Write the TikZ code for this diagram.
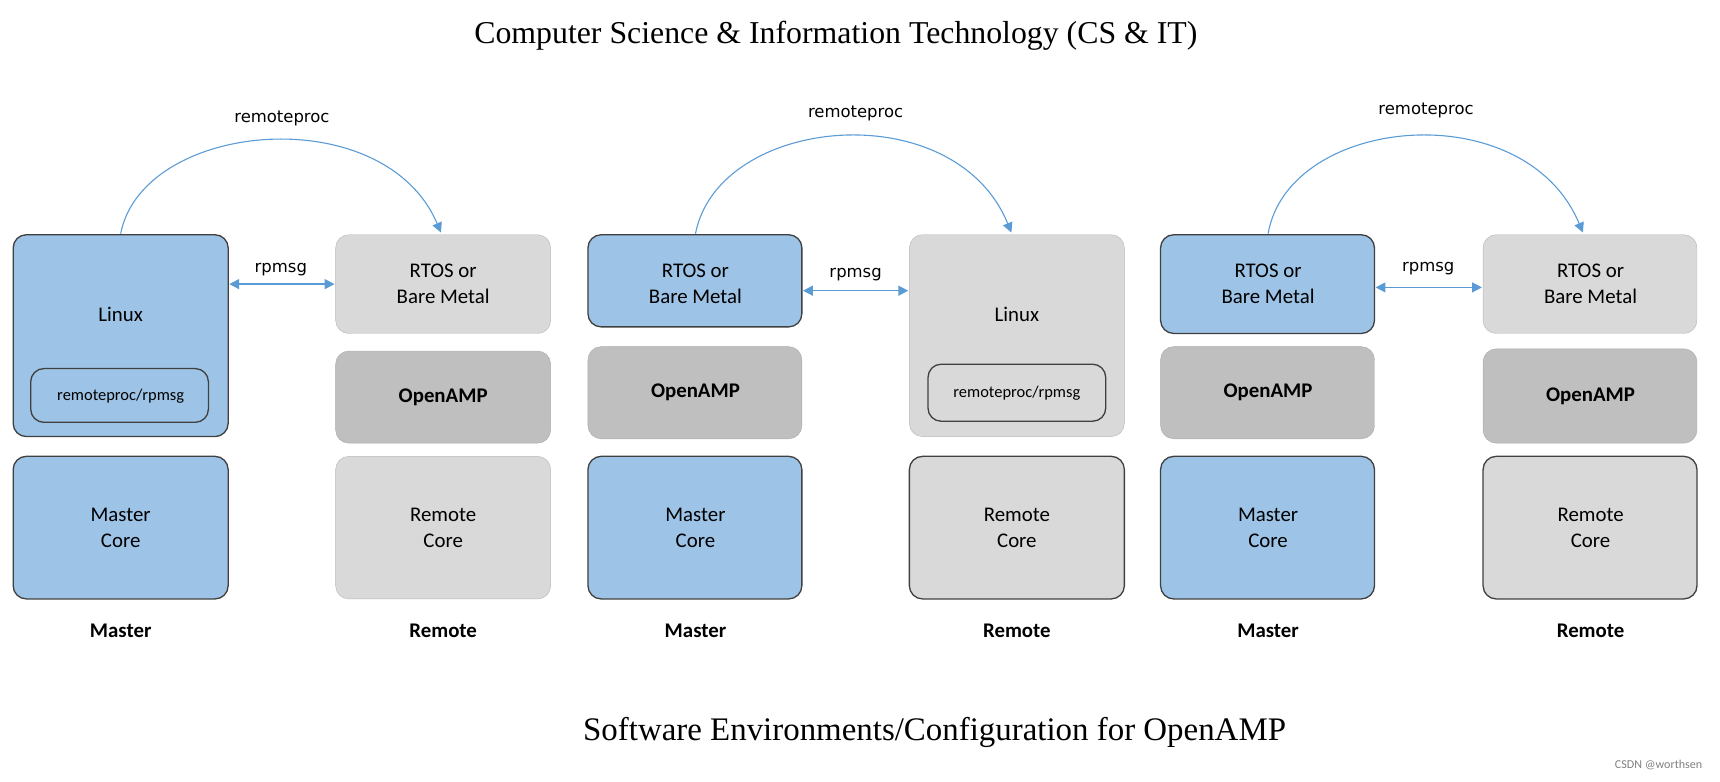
\documentclass[tikz,border=0pt]{standalone}
\usepackage{fontspec}
\setmainfont{Liberation Serif}
\newfontfamily\calfnt{Carlito}
\newfontfamily\dvfnt{DejaVu Sans}
\usetikzlibrary{arrows.meta}
\definecolor{bl}{HTML}{9DC3E6}
\definecolor{lg}{HTML}{D9D9D9}
\definecolor{mg}{HTML}{BFBFBF}
\definecolor{ar}{HTML}{5B9BD5}
\definecolor{bd}{HTML}{404040}
\begin{document}
\begin{tikzpicture}[x=1pt,y=-1pt,
 box/.style={rounded corners=12pt,line width=1.2pt},
 bbox/.style={box,fill=bl,draw=bd},
 gbox/.style={box,fill=lg,draw=bd},
 gnb/.style={box,fill=lg,draw=lg!85!black,line width=0.4pt},
 obox/.style={box,fill=mg,draw=mg!90!black,line width=0.4pt},
 inner/.style={rounded corners=12pt,line width=1.2pt,draw=bd},
 t/.style={font=\calfnt\fontsize{19}{24}\selectfont,align=center},
 ti/.style={font=\calfnt\fontsize{15}{18}\selectfont},
 lb/.style={font=\calfnt\bfseries\fontsize{19}{22}\selectfont},
 sl/.style={font=\dvfnt\fontsize{15}{18}\selectfont},
 arr/.style={draw=ar,line width=1pt,-{Triangle[length=9pt,width=9pt]}},
 darr/.style={draw=ar,line width=1.4pt,{Triangle[length=9pt,width=9pt]}-{Triangle[length=9pt,width=9pt]}}]
\useasboundingbox (0,0) rectangle (1568,712);
\node[font=\fontsize{29}{34}\selectfont] (t1) at (762,33) {Computer Science \& Information Technology (CS \& IT)};
\node[font=\fontsize{30}{34}\selectfont] (t2) at (852,668) {Software Environments/Configuration for OpenAMP};
\node[font=\calfnt\fontsize{11}{13}\selectfont,text=gray] (wm) at (1512,697) {CSDN @worthsen};

% group 1
\draw[bbox] (12,214) rectangle (208,398);
\node[t] (l1) at (110,287) {Linux};
\draw[inner] (28,336) rectangle (190,385);
\node[ti] (i1) at (110,361) {remoteproc/rpmsg};
\draw[bbox] (12,416) rectangle (208,546);
\node[t] (m1) at (110,481) {Master\\Core};
\draw[gnb] (306,214) rectangle (502,304);
\node[t] (r1) at (404,259) {RTOS or\\Bare Metal};
\draw[obox] (306,320) rectangle (502,404);
\node[lb] (o1) at (404,362) {OpenAMP};
\draw[gnb] (306,416) rectangle (502,546);
\node[t] (rc1) at (404,481) {Remote\\Core};
\node[lb] (ma1) at (110,575) {Master};
\node[lb] (re1) at (404,575) {Remote};
\coordinate (a1s) at (110,213); \coordinate (a1e) at (402,212);
\draw[arr] (a1s) .. controls (130,110) and (350,90) .. (a1e);
\node[sl] (rp1) at (257,108) {remoteproc};
\coordinate (d1a) at (209,259); \coordinate (d1b) at (305,259);
\draw[darr] (d1a) -- (d1b);
\node[sl] (rm1) at (256,246) {rpmsg};

% group 2
\draw[bbox] (536,214) rectangle (731,298);
\node[t] (r2) at (634,259) {RTOS or\\Bare Metal};
\draw[obox] (536,316) rectangle (731,400);
\node[lb] (o2) at (634,358) {OpenAMP};
\draw[bbox] (536,416) rectangle (731,546);
\node[t] (m2) at (634,481) {Master\\Core};
\draw[gnb] (829,214) rectangle (1025,398);
\node[t] (l2) at (927,287) {Linux};
\draw[inner] (846,332) rectangle (1008,384);
\node[ti] (i2) at (927,358) {remoteproc/rpmsg};
\draw[gbox] (829,416) rectangle (1025,546);
\node[t] (rc2) at (927,481) {Remote\\Core};
\node[lb] (ma2) at (634,575) {Master};
\node[lb] (re2) at (927,575) {Remote};
\coordinate (a2s) at (634,213); \coordinate (a2e) at (922,212);
\draw[arr] (a2s) .. controls (655,105) and (870,85) .. (a2e);
\node[sl] (rp2) at (780,103) {remoteproc};
\coordinate (d2a) at (732,265); \coordinate (d2b) at (828,265);
\draw[darr] (d2a) -- (d2b);
\node[sl] (rm2) at (780,250) {rpmsg};

% group 3
\draw[bbox] (1058,214) rectangle (1253,304);
\node[t] (r3) at (1156,259) {RTOS or\\Bare Metal};
\draw[obox] (1058,316) rectangle (1253,400);
\node[lb] (o3) at (1156,358) {OpenAMP};
\draw[bbox] (1058,416) rectangle (1253,546);
\node[t] (m3) at (1156,481) {Master\\Core};
\draw[gnb] (1352,214) rectangle (1547,304);
\node[t] (r4) at (1450,259) {RTOS or\\Bare Metal};
\draw[obox] (1352,318) rectangle (1547,404);
\node[lb] (o4) at (1450,361) {OpenAMP};
\draw[gbox] (1352,416) rectangle (1547,546);
\node[t] (rc3) at (1450,481) {Remote\\Core};
\node[lb] (ma3) at (1156,575) {Master};
\node[lb] (re3) at (1450,575) {Remote};
\coordinate (a3s) at (1156,213); \coordinate (a3e) at (1443,212);
\draw[arr] (a3s) .. controls (1175,105) and (1390,85) .. (a3e);
\node[sl] (rp3) at (1300,101) {remoteproc};
\coordinate (d3a) at (1254,262); \coordinate (d3b) at (1351,262);
\draw[darr] (d3a) -- (d3b);
\node[sl] (rm3) at (1302,245) {rpmsg};
\end{tikzpicture}
\end{document}
